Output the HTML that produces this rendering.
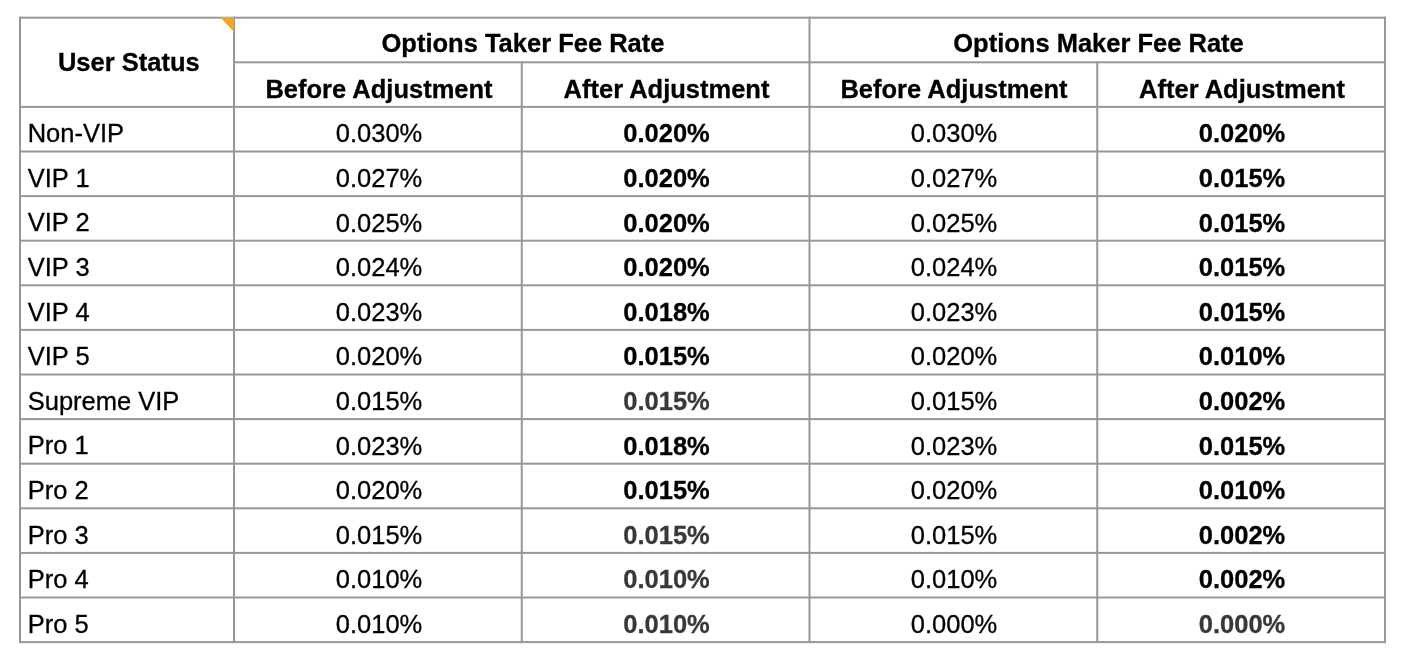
<!DOCTYPE html>
<html><head><meta charset="utf-8"><style>
html,body{margin:0;padding:0;background:#fff;width:1404px;height:660px;overflow:hidden;position:relative}
.grid{position:absolute;left:0;top:0}
.t{position:absolute;transform:translateZ(0);-webkit-text-stroke:0.3px currentColor;font-family:"Liberation Sans",sans-serif;font-size:25.5px;line-height:30px;height:30px;color:#000;white-space:nowrap}
.b{font-weight:bold;-webkit-text-stroke-width:0.3px}
.g{color:#383838}
.tri{position:absolute;left:220px;top:17px;width:0;height:0;border-top:15px solid #f4a61c;border-left:14px solid transparent}
</style></head><body>
<svg class="grid" width="1404" height="660" viewBox="0 0 1404 660" shape-rendering="geometricPrecision"><g fill="#979797"><rect x="19.00" y="16.70" width="2.00" height="626.40"/><rect x="233.00" y="16.70" width="2.00" height="626.40"/><rect x="808.50" y="16.70" width="2.00" height="626.40"/><rect x="1384.00" y="16.70" width="2.00" height="626.40"/><rect x="520.75" y="61.30" width="2.00" height="581.80"/><rect x="1096.25" y="61.30" width="2.00" height="581.80"/><rect x="19.00" y="16.70" width="1367.00" height="2.00"/><rect x="233.00" y="61.30" width="1153.00" height="2.00"/><rect x="19.00" y="105.90" width="1367.00" height="2.00"/><rect x="19.00" y="150.50" width="1367.00" height="2.00"/><rect x="19.00" y="195.10" width="1367.00" height="2.00"/><rect x="19.00" y="239.70" width="1367.00" height="2.00"/><rect x="19.00" y="284.30" width="1367.00" height="2.00"/><rect x="19.00" y="328.90" width="1367.00" height="2.00"/><rect x="19.00" y="373.50" width="1367.00" height="2.00"/><rect x="19.00" y="418.10" width="1367.00" height="2.00"/><rect x="19.00" y="462.70" width="1367.00" height="2.00"/><rect x="19.00" y="507.30" width="1367.00" height="2.00"/><rect x="19.00" y="551.90" width="1367.00" height="2.00"/><rect x="19.00" y="596.50" width="1367.00" height="2.00"/><rect x="19.00" y="641.10" width="1367.00" height="2.00"/></g></svg>
<div class="t b" style="left:22.8px;top:47.05px;width:212px;text-align:center">User Status</div>
<div class="t b" style="left:236.5px;top:28.45px;width:573px;text-align:center">Options Taker Fee Rate</div>
<div class="t b" style="left:811.5px;top:28.45px;width:574px;text-align:center">Options Maker Fee Rate</div>
<div class="t b" style="left:236px;top:73.64999999999999px;width:286px;text-align:center">Before Adjustment</div>
<div class="t b" style="left:524px;top:73.64999999999999px;width:285px;text-align:center">After Adjustment</div>
<div class="t b" style="left:811px;top:73.64999999999999px;width:286px;text-align:center">Before Adjustment</div>
<div class="t b" style="left:1099px;top:73.64999999999999px;width:286px;text-align:center">After Adjustment</div>
<div class="t " style="left:27.7px;top:118.25px;width:200px;text-align:left">Non-VIP</div>
<div class="t " style="left:236px;top:118.35000000000001px;width:286px;text-align:center">0.030%</div>
<div class="t b" style="left:524px;top:118.35000000000001px;width:285px;text-align:center">0.020%</div>
<div class="t " style="left:811px;top:118.35000000000001px;width:286px;text-align:center">0.030%</div>
<div class="t b" style="left:1099px;top:118.35000000000001px;width:286px;text-align:center">0.020%</div>
<div class="t " style="left:27.7px;top:162.85000000000002px;width:200px;text-align:left">VIP 1</div>
<div class="t " style="left:236px;top:162.95000000000002px;width:286px;text-align:center">0.027%</div>
<div class="t b" style="left:524px;top:162.95000000000002px;width:285px;text-align:center">0.020%</div>
<div class="t " style="left:811px;top:162.95000000000002px;width:286px;text-align:center">0.027%</div>
<div class="t b" style="left:1099px;top:162.95000000000002px;width:286px;text-align:center">0.015%</div>
<div class="t " style="left:27.7px;top:207.45000000000002px;width:200px;text-align:left">VIP 2</div>
<div class="t " style="left:236px;top:207.55px;width:286px;text-align:center">0.025%</div>
<div class="t b" style="left:524px;top:207.55px;width:285px;text-align:center">0.020%</div>
<div class="t " style="left:811px;top:207.55px;width:286px;text-align:center">0.025%</div>
<div class="t b" style="left:1099px;top:207.55px;width:286px;text-align:center">0.015%</div>
<div class="t " style="left:27.7px;top:252.05px;width:200px;text-align:left">VIP 3</div>
<div class="t " style="left:236px;top:252.15px;width:286px;text-align:center">0.024%</div>
<div class="t b" style="left:524px;top:252.15px;width:285px;text-align:center">0.020%</div>
<div class="t " style="left:811px;top:252.15px;width:286px;text-align:center">0.024%</div>
<div class="t b" style="left:1099px;top:252.15px;width:286px;text-align:center">0.015%</div>
<div class="t " style="left:27.7px;top:296.65000000000003px;width:200px;text-align:left">VIP 4</div>
<div class="t " style="left:236px;top:296.75px;width:286px;text-align:center">0.023%</div>
<div class="t b" style="left:524px;top:296.75px;width:285px;text-align:center">0.018%</div>
<div class="t " style="left:811px;top:296.75px;width:286px;text-align:center">0.023%</div>
<div class="t b" style="left:1099px;top:296.75px;width:286px;text-align:center">0.015%</div>
<div class="t " style="left:27.7px;top:341.25px;width:200px;text-align:left">VIP 5</div>
<div class="t " style="left:236px;top:341.34999999999997px;width:286px;text-align:center">0.020%</div>
<div class="t b" style="left:524px;top:341.34999999999997px;width:285px;text-align:center">0.015%</div>
<div class="t " style="left:811px;top:341.34999999999997px;width:286px;text-align:center">0.020%</div>
<div class="t b" style="left:1099px;top:341.34999999999997px;width:286px;text-align:center">0.010%</div>
<div class="t " style="left:27.7px;top:385.85px;width:200px;text-align:left">Supreme VIP</div>
<div class="t " style="left:236px;top:385.95px;width:286px;text-align:center">0.015%</div>
<div class="t b g" style="left:524px;top:385.95px;width:285px;text-align:center">0.015%</div>
<div class="t " style="left:811px;top:385.95px;width:286px;text-align:center">0.015%</div>
<div class="t b" style="left:1099px;top:385.95px;width:286px;text-align:center">0.002%</div>
<div class="t " style="left:27.7px;top:430.45000000000005px;width:200px;text-align:left">Pro 1</div>
<div class="t " style="left:236px;top:430.55px;width:286px;text-align:center">0.023%</div>
<div class="t b" style="left:524px;top:430.55px;width:285px;text-align:center">0.018%</div>
<div class="t " style="left:811px;top:430.55px;width:286px;text-align:center">0.023%</div>
<div class="t b" style="left:1099px;top:430.55px;width:286px;text-align:center">0.015%</div>
<div class="t " style="left:27.7px;top:475.05px;width:200px;text-align:left">Pro 2</div>
<div class="t " style="left:236px;top:475.15px;width:286px;text-align:center">0.020%</div>
<div class="t b" style="left:524px;top:475.15px;width:285px;text-align:center">0.015%</div>
<div class="t " style="left:811px;top:475.15px;width:286px;text-align:center">0.020%</div>
<div class="t b" style="left:1099px;top:475.15px;width:286px;text-align:center">0.010%</div>
<div class="t " style="left:27.7px;top:519.65px;width:200px;text-align:left">Pro 3</div>
<div class="t " style="left:236px;top:519.75px;width:286px;text-align:center">0.015%</div>
<div class="t b g" style="left:524px;top:519.75px;width:285px;text-align:center">0.015%</div>
<div class="t " style="left:811px;top:519.75px;width:286px;text-align:center">0.015%</div>
<div class="t b" style="left:1099px;top:519.75px;width:286px;text-align:center">0.002%</div>
<div class="t " style="left:27.7px;top:564.25px;width:200px;text-align:left">Pro 4</div>
<div class="t " style="left:236px;top:564.35px;width:286px;text-align:center">0.010%</div>
<div class="t b g" style="left:524px;top:564.35px;width:285px;text-align:center">0.010%</div>
<div class="t " style="left:811px;top:564.35px;width:286px;text-align:center">0.010%</div>
<div class="t b" style="left:1099px;top:564.35px;width:286px;text-align:center">0.002%</div>
<div class="t " style="left:27.7px;top:608.85px;width:200px;text-align:left">Pro 5</div>
<div class="t " style="left:236px;top:608.95px;width:286px;text-align:center">0.010%</div>
<div class="t b g" style="left:524px;top:608.95px;width:285px;text-align:center">0.010%</div>
<div class="t " style="left:811px;top:608.95px;width:286px;text-align:center">0.000%</div>
<div class="t b g" style="left:1099px;top:608.95px;width:286px;text-align:center">0.000%</div>
<div class="tri"></div>
</body></html>
